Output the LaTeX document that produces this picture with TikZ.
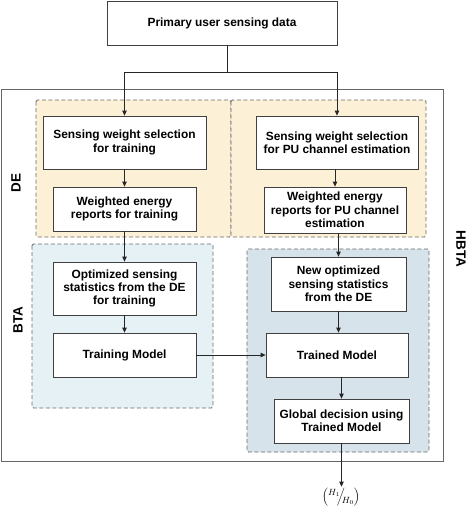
\documentclass[tikz,border=0pt]{standalone}
\usepackage{fontspec}
\setmainfont{Liberation Sans}
\usetikzlibrary{arrows.meta}
\definecolor{yfill}{RGB}{252,240,214}
\definecolor{bfillA}{RGB}{229,241,245}
\definecolor{bfillB}{RGB}{214,227,234}
\definecolor{lgray}{RGB}{105,105,105}
\begin{document}
\begin{tikzpicture}[x=1pt,y=-1pt,
  box/.style={draw=black!75,line width=0.8pt,fill=white,align=center,inner sep=1pt,
    font=\bfseries\fontsize{11.9}{13.4}\selectfont},
  region/.style={draw=lgray,line width=0.9pt,dash pattern=on 4pt off 2.5pt,rounded corners=1.5pt},
  lab/.style={font=\bfseries\fontsize{13.5}{15}\selectfont},
  arr/.style={-{Triangle[length=5pt,width=4.5pt]},draw=black!85,line width=0.8pt}]
\useasboundingbox (0,0) rectangle (474,515);
% outer frame
\draw[draw=black!60,line width=1pt] (1,89) rectangle (443,461);
% regions
\path[region,fill=yfill] (36,100) rectangle (231,237);
\path[region,fill=yfill] (231,100) rectangle (426,237);
\path[region,fill=bfillA] (32,244) rectangle (213,408);
\path[region,fill=bfillB] (247,249) rectangle (429,452);
% labels
\node[lab,rotate=90] (de) at (16,183) {DE};
\node[lab,rotate=90] (bta) at (18,320) {BTA};
\node[lab,rotate=-90] (hbta) at (461,249) {HBTA};
% boxes
\node[box,minimum width=230pt,minimum height=44pt] (top) at (222,23) {Primary user sensing data};
\node[box,minimum width=163pt,minimum height=53pt] (lb1) at (124.5,142.5) {Sensing weight selection\\for training};
\node[box,minimum width=143pt,minimum height=44pt] (lb2) at (124.5,209) {Weighted energy\\reports for training};
\node[box,minimum width=162pt,minimum height=53pt] (rb1) at (337,142.5) {Sensing weight selection\\for PU channel estimation};
\node[box,minimum width=142pt,minimum height=46pt] (rb2) at (335,210) {Weighted energy\\reports for PU channel\\estimation};
\node[box,minimum width=143pt,minimum height=53pt] (lb3) at (124.5,288.5) {Optimized sensing\\statistics from the DE\\for training};
\node[box,minimum width=143pt,minimum height=44pt] (lb4) at (124.5,355) {Training Model};
\node[box,minimum width=135pt,minimum height=54pt] (rb3) at (338.5,284) {New optimized\\sensing statistics\\from the DE};
\node[box,minimum width=142pt,minimum height=44pt] (rb4) at (337,355) {Trained Model};
\node[box,minimum width=135pt,minimum height=44pt] (rb5) at (341.5,421) {Global decision using\\Trained Model};
\node[inner sep=1pt,font=\fontsize{9}{10}\selectfont] (out) at (341,497) {$\left(\raisebox{4pt}{$H_1$}\!\!\Big/\!\!\raisebox{-4pt}{$H_0$}\right)$};
% connectors
\coordinate (j) at (227,72);
\draw[draw=black!85,line width=0.8pt] (top.south -| j) -- (j);
\draw[arr] (j) -| (lb1.north);
\draw[arr] (j) -| (rb1.north);
\draw[arr] (lb1.south) -- (lb1.south |- lb2.north);
\draw[arr] (rb1.south -| rb2.north) -- (rb2.north);
\draw[arr] (lb2.south) -- (lb2.south |- lb3.north);
\draw[arr] (rb3.north |- rb2.south) -- (rb3.north);
\draw[arr] (lb3.south) -- (lb3.south |- lb4.north);
\draw[arr] (rb3.south) -- (rb3.south |- rb4.north);
\draw[arr] (lb4.east) -- (rb4.west);
\draw[arr] (rb5.north |- rb4.south) -- (rb5.north);
\draw[arr] (rb5.south) -- (rb5.south |- out.north);
\end{tikzpicture}
\end{document}
